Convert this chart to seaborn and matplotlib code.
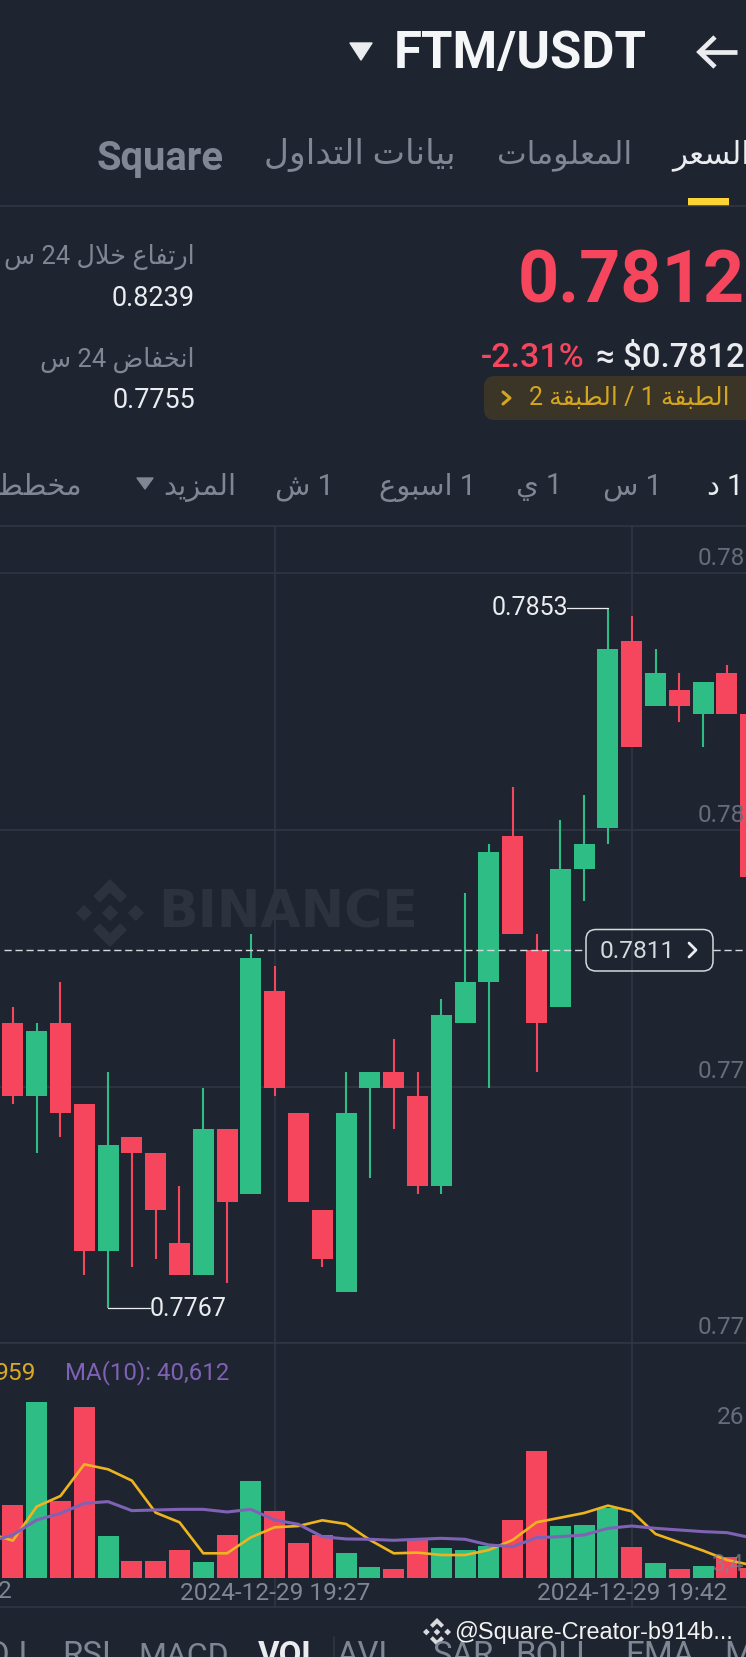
import re
import unicodedata
import numpy as np
import pandas as pd
import matplotlib
matplotlib.use("Agg")
import matplotlib.pyplot as plt
from matplotlib.patches import FancyBboxPatch, Polygon, Rectangle
import seaborn as sns

# ---------- data ----------
candle_index = list(range(-1, 32))
opens = [.7817,.7802,.7793,.7802,.7792,.7774,.7788,.7786,.7775,.7771,.7789,.7781,.7806,.7791,.7779,.7769,.7794,
         .7796,.7793,.7782,.7802,.7807,.7825,.7811,.7804,.7821,.7826,.7849,.7841,.7843,.7840,.7845,.7840]
highs = [.7817,.7804,.7802,.7807,.7792,.7796,.7788,.7786,.7782,.7794,.7789,.7813,.7809,.7791,.7779,.7796,.7796,
         .7800,.7796,.7805,.7818,.7824,.7831,.7813,.7827,.7830,.7853,.7852,.7848,.7845,.7844,.7846,.7840]
lows = [.7803,.7792,.7786,.7788,.7771,.7767,.7772,.7773,.7771,.7771,.7770,.7781,.7793,.7780,.7772,.7769,.7783,
        .7789,.7781,.7781,.7802,.7794,.7813,.7796,.7804,.7817,.7824,.7836,.7841,.7839,.7836,.7840,.7820]
closes = [.7803,.7793,.7801,.7791,.7774,.7787,.7786,.7779,.7771,.7789,.7780,.7810,.7794,.7780,.7773,.7791,.7796,
          .7794,.7782,.7803,.7807,.7823,.7813,.7802,.7821,.7824,.7848,.7836,.7845,.7841,.7844,.7840,.7820]
volume_index = list(range(0, 32))
volumes = [133.6,316.6,140.2,308.3,78.6,34.8,34.8,53.7,32.4,81.0,175.7,123.0,66.7,79.8,48.4,22.9,20.6,
           71.5,56.7,54.3,61.4,107.6,229.0,95.8,97.5,127.7,58.5,30.0,19.4,25.3,41.9,21.2]
ma5 = [83.3,70.3,130.7,149.6,205.9,197.0,176.9,120.0,102.9,47.8,47.8,76.2,94.0,96.3,106.4,99.9,71.5,47.8,49.0,
       44.8,44.8,53.7,71.5,102.9,111.1,119.4,132.5,122.4,82.1,67.3,52.5,36.0,27.1]
ma10 = [68.5,80.4,107.0,118.8,136.6,139.6,123.6,124.8,125.9,125.9,121.2,125.9,107.0,99.3,77.4,73.3,72.7,70.9,
        72.7,74.4,72.7,62.6,59.6,75.6,77.4,80.4,92.2,96.3,92.2,89.2,86.3,84.5,75.6]
price_grid = [0.78573, 0.78257, 0.77942, 0.77627]
price_labels = ["0.78", "0.78", "0.77", "0.77"]
last_price = 0.7811
high_mark = (25, 0.7853)
low_mark = (4, 0.7767)
time_ticks = [11, 26]
time_labels = ["2024-12-29 19:27", "2024-12-29 19:42"]

BG = "#1F2530"; RED = "#F6465D"; GREEN = "#2EBD85"; GRID = "#313744"
GREY = "#7F8794"; DIM = "#666D7A"; WHITE = "#EAECEF"; YEL = "#F0B90B"; PUR = "#7F62B5"

sns.set_theme(style="dark", rc={"figure.facecolor": BG, "axes.facecolor": BG, "savefig.facecolor": BG})
plt.rcParams["font.family"] = ["Roboto", "DejaVu Sans"]

W, H = 746, 1657
fig = plt.figure(figsize=(W / 100, H / 100), dpi=100)
X0, X1 = -0.54, 30.8


# ---------- Arabic shaping for a renderer without it ----------
forms = {}
for cp in range(0xFE70, 0xFEFD):
    d = unicodedata.decomposition(chr(cp)).split()
    if len(d) == 2 and d[0].startswith("<"):
        forms.setdefault(chr(int(d[1], 16)), {})[d[0].strip("<>")] = chr(cp)
RIGHT_ONLY = set("اأإآدذرزوؤة")
NONJOIN = set("ء")


def is_ar(c):
    return c in forms


def ar(s):
    out = []
    i = 0
    n = len(s)
    while i < n:
        c = s[i]
        if not is_ar(c):
            out.append(c)
            i += 1
            continue
        prev = s[i - 1] if i else ""
        join_prev = is_ar(prev) and prev not in RIGHT_ONLY and prev not in NONJOIN
        if c == "ل" and i + 1 < n and s[i + 1] == "ا":
            out.append("\uFEFC" if join_prev else "\uFEFB")
            i += 2
            continue
        nxt = s[i + 1] if i + 1 < n else ""
        join_next = is_ar(nxt) and c not in RIGHT_ONLY and c not in NONJOIN
        f = forms[c]
        key = ("medial" if join_next else "final") if join_prev else ("initial" if join_next else "isolated")
        out.append(f.get(key, f.get("isolated", c)))
        i += 1
    vis = "".join(out)[::-1]
    return re.sub(r"[0-9.,]+", lambda m: m.group(0)[::-1], vis)


# ---------- background gridlines ----------
bg = fig.add_axes([0, 0, 1, 1], zorder=0)
bg.set_xlim(X0, X1); bg.set_ylim(H, 0); bg.axis("off")
bg.vlines(time_ticks, 526, 1607, color=GRID, lw=1.1)
bg.set_xticks([]); bg.set_yticks([])

# ---------- candles ----------
df = pd.DataFrame({"i": candle_index, "o": opens, "h": highs, "l": lows, "c": closes})
df["top"] = df[["o", "c"]].max(axis=1)
df["bot"] = df[["o", "c"]].min(axis=1)
df["side"] = np.where(df["c"] >= df["o"], "up", "down")

ax = fig.add_axes([0, 1 - 1343 / H, 1, (1343 - 526) / H], zorder=1)
ax.patch.set_alpha(0)
ax.hlines(price_grid, X0, X1, color=GRID, lw=1.1, zorder=0)
for side, col in (("up", GREEN), ("down", RED)):
    part = df[df["side"] == side]
    ax.vlines(part["i"], part["l"], part["h"], color=col, lw=1.5, zorder=2)
    sns.barplot(x=part["i"].to_numpy(), y=(part["top"] - part["bot"]).to_numpy(), bottom=part["bot"].to_numpy(),
                native_scale=True, width=0.88, color=col, saturation=1, errorbar=None, linewidth=0, ax=ax, zorder=3)
ax.set_xlim(X0, X1)
ax.set_ylim(0.776267, 0.786312)
ax.set_xticks([]); ax.set_yticks([]); ax.set_xlabel(""); ax.set_ylabel("")
for s in ax.spines.values():
    s.set_visible(False)
lab_tr = ax.get_yaxis_transform()
for p, lab in zip(price_grid, price_labels):
    ax.annotate(lab, (0, p), xycoords=lab_tr, xytext=(698 * .72, 15 * .72), textcoords="offset points",
                color=DIM, fontsize=17.5, va="center", ha="left", annotation_clip=False)
ax.annotate("0.7853", high_mark, xytext=(-40 * .72, 0), textcoords="offset points", ha="right", va="center",
            color=WHITE, fontsize=18)
ax.plot([high_mark[0] - 1.72, high_mark[0]], [high_mark[1]] * 2, color=WHITE, lw=0.9, zorder=4)
ax.annotate("0.7767", low_mark, xytext=(42 * .72, -1 * .72), textcoords="offset points", ha="left", va="center",
            color=WHITE, fontsize=18)
ax.plot([low_mark[0], low_mark[0] + 1.76], [low_mark[1]] * 2, color=WHITE, lw=0.9, zorder=4)
# last price dashed line
dash = dict(color="#D5D8DC", lw=1.0, dashes=(5.2, 2.7), zorder=6)
ax.plot([X0 + 0.17, 23.9], [last_price] * 2, **dash)
ax.plot([29.43, X1], [last_price] * 2, **dash)

# ---------- volume ----------
vf = pd.DataFrame({"i": volume_index, "v": volumes})
vf["side"] = df.set_index("i").loc[volume_index, "side"].to_numpy()
ax2 = fig.add_axes([0, 1 - 1578.3 / H, 1, (1578.3 - 1343) / H], zorder=1)
ax2.patch.set_alpha(0)
sns.barplot(data=vf, x="i", y="v", hue="side", palette={"up": GREEN, "down": RED}, dodge=False, native_scale=True,
            width=0.88, saturation=1, errorbar=None, legend=False, linewidth=0, ax=ax2, zorder=2)
sns.lineplot(x=candle_index, y=ma5, color="#EDB420", lw=1.9, ax=ax2, zorder=3, errorbar=None)
sns.lineplot(x=candle_index, y=ma10, color=PUR, lw=2.2, ax=ax2, zorder=4, errorbar=None)
ax2.set_xlim(X0, X1)
ax2.set_ylim(3.4, 421.4)
ax2.set_yticks([]); ax2.set_xlabel(""); ax2.set_ylabel("")
ax2.set_xticks(time_ticks, time_labels)
ax2.tick_params(axis="x", length=0, pad=2.5, labelsize=17.6, labelcolor=GREY)
for s in ax2.spines.values():
    s.set_visible(False)

# ---------- overlay (screen furniture) ----------
ov = fig.add_axes([0, 0, 1, 1], zorder=5)
ov.set_xlim(0, W); ov.set_ylim(H, 0); ov.axis("off"); ov.patch.set_alpha(0)
ov.set_xticks([]); ov.set_yticks([])


def t(x, y, s, px, color=WHITE, ha="left", weight="normal", va="center", **kw):
    return ov.text(x, y, s, fontsize=px * .72, color=color, ha=ha, va=va, fontweight=weight, **kw)


def logo(cx, cy, r, color):
    def dia(dx, dy, h):
        ov.add_patch(Polygon([(cx + (dx + a) * r, cy + (dy + b) * r) for a, b in ((0, h), (h, 0), (0, -h), (-h, 0))],
                             fc=color, ec="none"))
    dia(0, 0, .24); dia(-.76, 0, .24); dia(.76, 0, .24)
    for sgn in (1, -1):
        pts = [(0, 1), (.5, .5), (.3, .3), (0, .6), (-.3, .3), (-.5, .5)]
        ov.add_patch(Polygon([(cx + a * r, cy - sgn * b * r) for a, b in pts], fc=color, ec="none"))


def tri(x0, x1, y0, y1, color):
    ov.add_patch(Polygon([(x0, y0), (x1, y0), ((x0 + x1) / 2, y1)], fc=color, ec=color, lw=1.0, joinstyle="round"))


# header
tri(350, 372, 43, 60, WHITE)
t(647, 54, "FTM/USDT", 51, ha="right", weight="bold", color="#F5F6F7")
ov.plot([699, 737], [52, 52], color=WHITE, lw=3.4, solid_capstyle="butt")
ov.plot([715, 699.5, 715], [37, 52, 67], color=WHITE, lw=3.4, solid_joinstyle="miter", solid_capstyle="butt")

# tabs
t(224, 159, "Square", 40, color=GREY, ha="right", weight="bold")
t(456, 155, ar("بيانات التداول"), 34.5, color=GREY, ha="right")
t(632, 155, ar("المعلومات"), 31.5, color=GREY, ha="right")
t(750, 155, ar("السعر"), 31, color=WHITE, ha="right")
ov.add_patch(Rectangle((688, 198), 41, 7.5, fc="#FCD535", ec="none"))
ov.plot([0, W], [206, 206], color=GRID, lw=1.1)

# stats
t(195, 257, ar("ارتفاع خلال 24 س"), 25.5, color=GREY, ha="right")
t(195, 298, "0.8239", 27, ha="right")
t(195, 360, ar("انخفاض 24 س"), 25.5, color=GREY, ha="right")
t(195, 400, "0.7755", 27, ha="right")
t(745, 283, "0.7812", 72, color=RED, ha="right", weight="bold")
t(585, 358, "-2.31%", 34, color=RED, ha="right", weight="medium")
t(745, 358, "≈ $0.7812", 33, ha="right", weight="medium")
ov.add_patch(FancyBboxPatch((494, 376), 262, 44, boxstyle="round,pad=0,rounding_size=11", fc="#3A3527", ec="none", mutation_aspect=1))
ov.add_patch(Rectangle((484, 386), 20, 24, fc="#3A3527", ec="none"))
ov.add_patch(FancyBboxPatch((484, 376), 40, 44, boxstyle="round,pad=0,rounding_size=11", fc="#3A3527", ec="none"))
t(730, 398, ar("الطبقة 1 / الطبقة 2"), 25, color="#D6A520", ha="right")
ov.plot([503, 510, 503], [392, 398, 404], color="#D6A520", lw=2.2)

# timeframe row
for right, s, col in ((743, "1 د", WHITE), (662, "1 س", GREY), (562, "1 ي", GREY), (476, "1 اسبوع", GREY),
                      (334, "1 ش", GREY), (236, "المزيد", GREY), (81, "مخطط", GREY)):
    t(right, 487, ar(s), 29, color=col, ha="right")
tri(137, 153, 478, 489, GREY)
ov.plot([0, W], [526, 526], color=GRID, lw=1.1)

# watermark
logo(110, 913, 34, "#2D333E")
ov.text(158, 913, "BINANCE", fontsize=52 * .72, color="#2D333E", fontweight="bold", family="DejaVu Sans", va="center")

# last price tag
ov.add_patch(FancyBboxPatch((586, 929.5), 127, 41.5, boxstyle="round,pad=0,rounding_size=10", fc="none", ec="#D5D8DC", lw=1.1))
t(600, 952, "0.7811", 24.5, color="#D5D8DC")
ov.plot([689, 696, 689], [943, 950, 957], color=WHITE, lw=2.0)

# volume legend and labels
t(36, 1373, "959", 24.5, color="#D9A926", ha="right")
t(65, 1373, "MA(10): 40,612", 24, color=PUR)
t(717, 1418, "26", 24.5, color=DIM)
t(712, 1564, "3,4", 24.5, color=GREY, alpha=.7)
t(12, 1592, "2", 24.4, color=GREY, ha="right")
ov.plot([0, W], [1343, 1343], color=GRID, lw=1.1)
ov.plot([0, W], [1607, 1607], color=GRID, lw=1.1)

# bottom tabs
for x, s, col, w, px in ((27.6, "DJ", GREY, "normal", 33), (111, "RSI", GREY, "normal", 33), (229, "MACD", GREY, "normal", 32),
                         (320, "VOL", WHITE, "bold", 33), (397, "AVL", GREY, "normal", 33), (494, "SAR", GREY, "normal", 33),
                         (594, "BOLL", GREY, "normal", 33), (695, "EMA", GREY, "normal", 33), (753, "M", GREY, "normal", 33)):
    t(x, 1665, s, px, color=col, ha="right", va="baseline", weight=w)
ov.plot([334, 334], [1637, 1657], color=GRID, lw=1.1)

# image credit
logo(437, 1632, 14, "#D8DADD")
ov.text(454, 1633, "@Square-Creator-b914b...", fontsize=23.5 * .72, color="#F2F2F2", va="center", ha="left",
        family="Liberation Sans")

fig.savefig("out.png", dpi=100)
